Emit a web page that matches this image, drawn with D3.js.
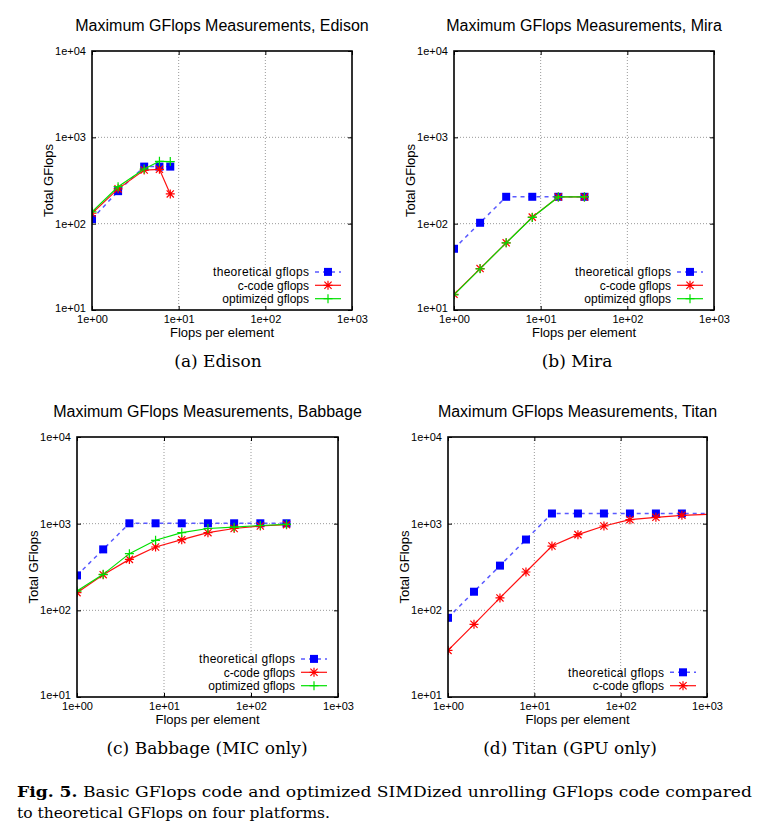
<!DOCTYPE html>
<html lang="en">
<head>
<meta charset="utf-8">
<title>Maximum GFlops Measurements</title>
<script src="https://d3js.org/d3.v7.min.js"></script>
<style>
  body { margin: 0; background: #fff; }
  svg { display: block; background: #fff; }
  .plot text { font-family: "Liberation Sans", Arial, sans-serif; fill: #000; }
  .serif { font-family: "DejaVu Serif", serif; fill: #000; }
</style>
</head>
<body>
<div id="chart"></div>
<script>
// Flops per element (x values) for each platform
const xEdison  = [1, 2, 4, 6, 8];
const xMira    = [1, 2, 4, 8, 16, 32];
const xBabbage = [1, 2, 4, 8, 16, 32, 64, 128, 256];
const xTitan   = [1, 2, 4, 8, 16, 32, 64, 128, 256, 512, 1024];

// Total GFlops
const edisonTheoretical = [113, 238, 458, 458, 458];
const edisonCcode       = [132, 253, 418, 426, 221];
const edisonOptimized   = [137, 268, 430, 528, 524];

const miraTheoretical = [51.2, 102.4, 204.8, 204.8, 204.8, 204.8];
const miraCcode       = [15.2, 30.2, 60, 119, 204, 204];
const miraOptimized   = [15, 30, 60, 118, 204, 204];

const babbageTheoretical = [253, 505, 1010, 1010, 1010, 1010, 1010, 1010, 1010];
const babbageCcode       = [160, 258, 387, 538, 654, 787, 879, 940, 974];
const babbageOptimized   = [167, 260, 451, 643, 787, 879, 912, 953, 983];

const titanTheoretical = [82, 164, 328, 656, 1310, 1310, 1310, 1310, 1310, 1310, 1310];
const titanCcode       = [34.5, 69, 139, 277, 552, 747, 940, 1112, 1183, 1248, 1281];

const seriesNames = ["theoretical gflops", "c-code gflops", "optimized gflops"];
const platforms = ["Edison", "Mira", "Babbage", "Titan"];
const subCaptions = ["(a) Edison", "(b) Mira", "(c) Babbage (MIC only)", "(d) Titan (GPU only)"];
const xTicks = [1, 10, 100, 1000];
const yTicks = [10, 100, 1000, 10000];
const captionBold = "Fig. 5.";
const captionLine1 = " Basic GFlops code and optimized SIMDized unrolling GFlops code compared";
const captionLine2 = "to theoretical GFlops on four platforms.";

// line/marker styles per series (gnuplot-ish)
const styles = [
  {line: "#5a5aff", dash: "4,4", fill: "#0000ff", marker: "square", w: 1.5},
  {line: "#ff1010", dash: null, fill: "#ff0000", marker: "star", w: 1.2},
  {line: "#00e000", dash: null, fill: "#00e000", marker: "plus", w: 1.2}
];

const panels = [
  {left: 92,  right: 352, top: 51,  bottom: 310, capX: 218, xs: xEdison,
   ys: [edisonTheoretical, edisonCcode, edisonOptimized]},
  {left: 454, right: 714, top: 51,  bottom: 310, capX: 577, xs: xMira,
   ys: [miraTheoretical, miraCcode, miraOptimized]},
  {left: 77,  right: 338, top: 437, bottom: 697, capX: 207, xs: xBabbage,
   ys: [babbageTheoretical, babbageCcode, babbageOptimized]},
  {left: 448, right: 707, top: 437, bottom: 697, capX: 570, xs: xTitan,
   ys: [titanTheoretical, titanCcode]}
];

const width = 765, height = 836;
const svg = d3.select("#chart").append("svg")
    .attr("width", width)
    .attr("height", height);

const expFormat = d => "1e+" + d3.format("02d")(Math.round(Math.log10(d)));

function markerPath(type, h) {
  if (type === "plus") return `M${-h},0H${h}M0,${-h}V${h}`;
  // asterisk = plus + cross
  const k = h * 0.8;
  return `M${-h},0H${h}M0,${-h}V${h}M${-k},${-k}L${k},${k}M${-k},${k}L${k},${-k}`;
}

function drawMarker(g, type, cx, cy, s) {
  if (type === "square") {
    g.append("rect")
      .attr("x", cx - 4).attr("y", cy - 4)
      .attr("width", 8).attr("height", 8)
      .attr("fill", s.fill);
  } else {
    g.append("path")
      .attr("transform", `translate(${cx},${cy})`)
      .attr("d", markerPath(type, 4.5))
      .attr("fill", "none")
      .attr("stroke", s.fill)
      .attr("stroke-width", 1.2);
  }
}

panels.forEach((p, i) => {
  const g = svg.append("g").attr("class", "plot");
  const x = d3.scaleLog().domain([1, 1000]).range([p.left, p.right]);
  const y = d3.scaleLog().domain([10, 10000]).range([p.bottom, p.top]);

  const clipId = "clip" + i;
  g.append("clipPath").attr("id", clipId)
    .append("rect")
    .attr("x", p.left).attr("y", p.top)
    .attr("width", p.right - p.left).attr("height", p.bottom - p.top);

  // dotted grid at inner decades
  g.selectAll(".gx").data(xTicks.slice(1, -1)).enter().append("line")
    .attr("x1", d => x(d)).attr("x2", d => x(d))
    .attr("y1", p.top).attr("y2", p.bottom)
    .attr("stroke", "#999").attr("stroke-dasharray", "1,2");
  g.selectAll(".gy").data(yTicks.slice(1, -1)).enter().append("line")
    .attr("y1", d => y(d)).attr("y2", d => y(d))
    .attr("x1", p.left).attr("x2", p.right)
    .attr("stroke", "#999").attr("stroke-dasharray", "1,2");

  // series
  const line = d3.line().x(d => x(d[0])).y(d => y(d[1]));
  const plotArea = g.append("g").attr("clip-path", `url(#${clipId})`);
  p.ys.forEach((vals, si) => {
    const s = styles[si];
    const pts = p.xs.map((xv, k) => [xv, vals[k]]);
    plotArea.append("path")
      .attr("d", line(pts))
      .attr("fill", "none")
      .attr("stroke", s.line)
      .attr("stroke-width", s.w)
      .attr("stroke-dasharray", s.dash);
    pts.filter(d => d[0] <= 1000).forEach(d => {
      drawMarker(plotArea, s.marker, x(d[0]), y(d[1]), s);
    });
  });

  // frame
  g.append("rect")
    .attr("x", p.left).attr("y", p.top)
    .attr("width", p.right - p.left).attr("height", p.bottom - p.top)
    .attr("fill", "none").attr("stroke", "#000").attr("stroke-width", 1.6);

  // axes with inward ticks, mirrored on top/right
  const axes = [
    {ax: d3.axisBottom(x).tickValues(xTicks).tickFormat(expFormat), t: `translate(0,${p.bottom})`},
    {ax: d3.axisTop(x).tickValues(xTicks).tickFormat(""), t: `translate(0,${p.top})`},
    {ax: d3.axisLeft(y).tickValues(yTicks).tickFormat(expFormat), t: `translate(${p.left},0)`},
    {ax: d3.axisRight(y).tickValues(yTicks).tickFormat(""), t: `translate(${p.right},0)`}
  ];
  axes.forEach((a, ai) => {
    const ag = g.append("g").attr("transform", a.t)
      .call(a.ax.tickSizeInner(-4).tickSizeOuter(0).tickPadding(ai === 0 ? 5 : 6));
    ag.select(".domain").remove();
    ag.attr("font-family", null).attr("font-size", 11);
    ag.selectAll(".tick line").attr("stroke", "#000");
    // lowest y label sits just above the corner x label, as in gnuplot
    if (ai === 2) ag.selectAll(".tick text").filter(d => d === yTicks[0]).attr("dy", "0.1em");
  });

  // titles and axis labels
  const cx = (p.left + p.right) / 2;
  g.append("text")
    .attr("x", cx).attr("y", p.top - 20)
    .attr("text-anchor", "middle").attr("font-size", 16)
    .text("Maximum GFlops Measurements, " + platforms[i]);
  g.append("text")
    .attr("x", cx).attr("y", p.bottom + 27)
    .attr("text-anchor", "middle").attr("font-size", 13)
    .text("Flops per element");
  g.append("text")
    .attr("transform", `translate(${p.left - 39},${(p.top + p.bottom) / 2}) rotate(-90)`)
    .attr("text-anchor", "middle").attr("font-size", 13)
    .text("Total GFlops");

  // key, bottom right
  const n = p.ys.length;
  p.ys.forEach((vals, si) => {
    const s = styles[si];
    const ly = p.bottom - 11.3 - (n - 1 - si) * 13.4;
    g.append("text")
      .attr("x", p.right - 43).attr("y", ly).attr("dy", "0.35em")
      .attr("text-anchor", "end").attr("font-size", 12)
      .attr("textLength", si === 0 ? 96 : null)
      .text(seriesNames[si]);
    g.append("line")
      .attr("x1", p.right - 37).attr("x2", p.right - 11)
      .attr("y1", ly).attr("y2", ly)
      .attr("stroke", s.line)
      .attr("stroke-width", s.w)
      .attr("stroke-dasharray", s.dash);
    drawMarker(g, s.marker, p.right - 24, ly, s);
  });

  svg.append("text")
    .attr("class", "serif")
    .attr("x", p.capX).attr("y", p.bottom + 56.5)
    .attr("text-anchor", "middle").attr("font-size", 17)
    .text(subCaptions[i]);
});

// figure caption
const cap1 = svg.append("text").attr("class", "serif")
  .attr("x", 17).attr("y", 797).attr("font-size", 15)
  .attr("textLength", 735).attr("lengthAdjust", "spacingAndGlyphs");
cap1.append("tspan").attr("font-weight", "bold").text(captionBold);
cap1.append("tspan").text(captionLine1);
svg.append("text").attr("class", "serif")
  .attr("x", 17).attr("y", 818).attr("font-size", 15)
  .attr("textLength", 313).attr("lengthAdjust", "spacingAndGlyphs")
  .text(captionLine2);
</script>
</body>
</html>
